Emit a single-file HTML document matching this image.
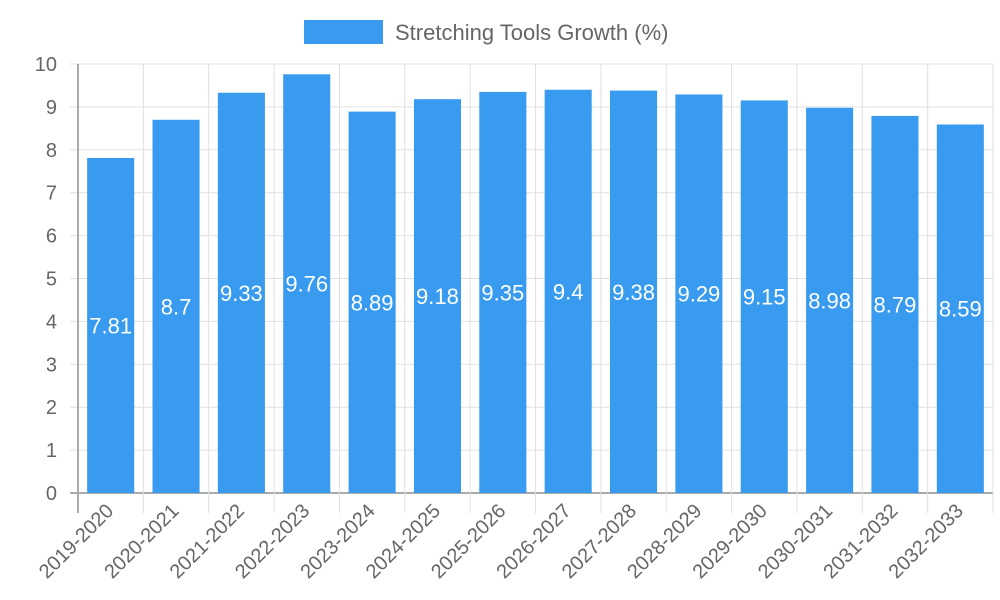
<!DOCTYPE html>
<html><head><meta charset="utf-8"><style>
body{margin:0;background:#fff;}
svg{display:block;font-family:"Liberation Sans",sans-serif;}
</style></head><body>
<svg id="c" width="1000" height="600">
<g>
<rect x="304" y="20" width="79" height="24" fill="#389bef"></rect>
<text x="395" y="40" font-size="22" fill="#666">Stretching Tools Growth (%)</text>
</g>
<g id="grid"></g><g id="bars"></g><g id="labels"></g>
</svg>
<script>
const categories=["2019-2020","2020-2021","2021-2022","2022-2023","2023-2024","2024-2025","2025-2026","2026-2027","2027-2028","2028-2029","2029-2030","2030-2031","2031-2032","2032-2033"];
const values=[7.81,8.7,9.33,9.76,8.89,9.18,9.35,9.4,9.38,9.29,9.15,8.98,8.79,8.59];
const yTicks=[0,1,2,3,4,5,6,7,8,9,10];
const NS="http://www.w3.org/2000/svg";
const x0=78,x1=993,y0=493,y1=64,yMax=10;
const step=(x1-x0)/categories.length;
function y(v){return y0-(v/yMax)*(y0-y1);}
function xc(i){return x0+step*(i+0.5);}
function mk(tag,attrs,parent){const e=document.createElementNS(NS,tag);for(const k in attrs)e.setAttribute(k,attrs[k]);parent.appendChild(e);return e;}
const grid=document.getElementById('grid'),bars=document.getElementById('bars'),labels=document.getElementById('labels');
yTicks.forEach(t=>{
 const l=mk('line',{x1:x0-8,x2:x1,y1:y(t),y2:y(t),stroke:t===0?'#aaa':'#e0e0e0','stroke-width':t===0?2:1},grid);
 
 
 const tx=mk('text',{x:57,y:y(t)+7,'text-anchor':'end','font-size':20,fill:'#666'},grid);
 tx.textContent=t;
 
 
});
for(let i=0;i<=categories.length;i++){
 const gx=x0+step*i;
 const l=mk('line',{x1:gx,x2:gx,y1:y1,y2:y0+20,stroke:i===0?'#aaa':'#e0e0e0','stroke-width':i===0?2:1},grid);
 
 
}
const bw=step*0.72;
categories.forEach((c,i)=>{
 const v=values[i];
 const r=mk('rect',{x:xc(i)-bw/2,y:y(v),width:bw,height:y0-y(v),fill:'#389bef'},bars);
 
 
 const vt=mk('text',{x:xc(i),y:(y(v)+y0)/2+8,'text-anchor':'middle','font-size':22,fill:'#fff'},labels);
 vt.textContent=v;
 
 
 const ct=mk('text',{x:xc(i)+4,y:512,'text-anchor':'end','font-size':20,fill:'#666',transform:`rotate(-45 ${xc(i)+4} 512)`},labels);
 ct.textContent=c;
 
 
});
</script>
</body></html>
